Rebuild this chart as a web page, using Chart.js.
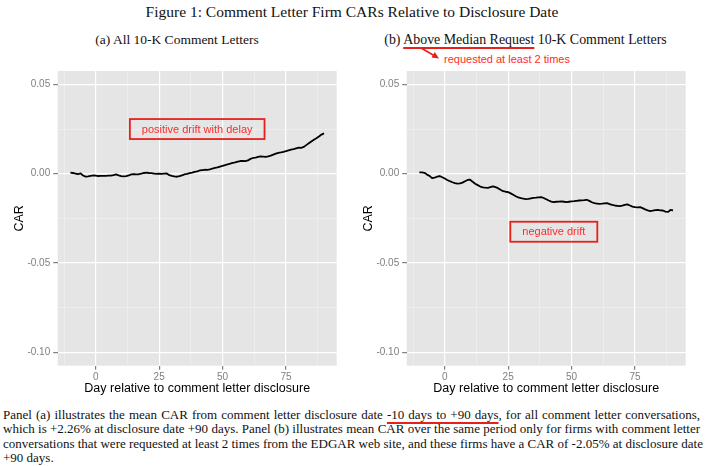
<!DOCTYPE html>
<html>
<head>
<meta charset="utf-8">
<script src="https://cdn.jsdelivr.net/npm/chart.js@4"></script>
<style>
  body { margin: 0; width: 705px; height: 466px; background: #fff; position: relative; overflow: hidden; }
  .c { position: absolute; transform: translate(-50%, -50%); white-space: nowrap; font-family: "Liberation Serif", serif; color: #111; }
  .ul { text-decoration: underline; text-decoration-color: #e8201c; text-decoration-thickness: 1.5px; text-underline-offset: 3px; }
  .cap { position: absolute; left: 3px; width: 697px; height: 14px; line-height: 14px; font-family: "Liberation Serif", serif;
         font-size: 13px; color: #111; text-align: justify; text-align-last: justify; white-space: nowrap; }
  canvas { position: absolute; top: 60px; }
</style>
</head>
<body>
<div class="c" style="left:352px;top:12px;font-size:15.5px">Figure 1: Comment Letter Firm CARs Relative to Disclosure Date</div>
<div class="c" style="left:177px;top:40px;font-size:13.5px">(a) All 10-K Comment Letters</div>
<div class="c" style="left:525.5px;top:40px;font-size:13.9px">(b) <span class="ul">Above Median Request</span> 10-K Comment Letters</div>
<div class="c" style="left:507px;top:59px;font-size:11px;font-family:'Liberation Sans',sans-serif;color:#ff2a2a">requested at least 2 times</div>
<svg width="705" height="466" style="position:absolute;left:0;top:0;pointer-events:none">
  <line x1="421" y1="48" x2="434" y2="55.5" stroke="#e8201c" stroke-width="1.6"/>
  <polygon points="439,58.5 431.5,57.5 434.8,52" fill="#e8201c"/>
</svg>

<canvas id="panelA" width="345" height="340" style="left:0px"></canvas>
<canvas id="panelB" width="345" height="340" style="left:349px"></canvas>

<div class="cap" style="top:408px">Panel (a) illustrates the mean CAR from comment letter disclosure date <span class="ul">-10 days to +90 days</span>, for all comment letter conversations,</div>
<div class="cap" style="top:422px">which is +2.26% at disclosure date +90 days. Panel (b) illustrates mean CAR over the same period only for firms with comment letter</div>
<div class="cap" style="top:437px">conversations that were requested at least 2 times from the EDGAR web site, and these firms have a CAR of -2.05% at disclosure date</div>
<div class="cap" style="top:451px;text-align-last:left">+90 days.</div>

<script>
// days -10 .. +90 relative to disclosure
const days = [
  -10, -9, -8, -7, -6, -5, -4, -3, -2, -1,
  0, 1, 2, 3, 4, 5, 6, 7, 8, 9,
  10, 11, 12, 13, 14, 15, 16, 17, 18, 19,
  20, 21, 22, 23, 24, 25, 26, 27, 28, 29,
  30, 31, 32, 33, 34, 35, 36, 37, 38, 39,
  40, 41, 42, 43, 44, 45, 46, 47, 48, 49,
  50, 51, 52, 53, 54, 55, 56, 57, 58, 59,
  60, 61, 62, 63, 64, 65, 66, 67, 68, 69,
  70, 71, 72, 73, 74, 75, 76, 77, 78, 79,
  80, 81, 82, 83, 84, 85, 86, 87, 88, 89,
  90
];

// (a) all 10-K comment letters, mean CAR
const carAll = [
  0.0006, 0.0004, 0.0001, -0.0003, 0.0002, -0.0010, -0.0016, -0.0015, -0.0012, -0.0009,
  -0.0011, -0.0013, -0.0012, -0.0012, -0.0012, -0.0011, -0.0011, -0.0008, -0.0004, -0.0009,
  -0.0013, -0.0015, -0.0014, -0.0010, -0.0004, -0.0002, -0.0004, -0.0003, 0.0000, 0.0004,
  0.0006, 0.0004, 0.0003, 0.0001, -0.0001, 0.0000, -0.0001, 0.0000, 0.0001, -0.0008,
  -0.0012, -0.0015, -0.0017, -0.0014, -0.0009, -0.0004, -0.0001, 0.0003, 0.0006, 0.0010,
  0.0013, 0.0018, 0.0020, 0.0022, 0.0021, 0.0024, 0.0029, 0.0033, 0.0035, 0.0040,
  0.0044, 0.0048, 0.0052, 0.0056, 0.0061, 0.0063, 0.0067, 0.0071, 0.0072, 0.0070,
  0.0074, 0.0083, 0.0088, 0.0090, 0.0094, 0.0097, 0.0096, 0.0094, 0.0097, 0.0101,
  0.0107, 0.0112, 0.0117, 0.0119, 0.0122, 0.0126, 0.0131, 0.0135, 0.0138, 0.0142,
  0.0146, 0.0145, 0.0150, 0.0160, 0.0170, 0.0180, 0.0190, 0.0198, 0.0208, 0.0219,
  0.0226
];

// (b) above median request 10-K comment letters, mean CAR
const carAboveMedian = [
  0.0007, 0.0007, 0.0005, -0.0005, -0.0012, -0.0025, -0.0022, -0.0017, -0.0013, -0.0020,
  -0.0027, -0.0035, -0.0042, -0.0048, -0.0053, -0.0056, -0.0054, -0.0050, -0.0042, -0.0035,
  -0.0034, -0.0045, -0.0056, -0.0064, -0.0072, -0.0076, -0.0078, -0.0079, -0.0075, -0.0071,
  -0.0075, -0.0081, -0.0090, -0.0098, -0.0101, -0.0103, -0.0110, -0.0118, -0.0126, -0.0133,
  -0.0137, -0.0140, -0.0142, -0.0141, -0.0138, -0.0135, -0.0134, -0.0132, -0.0131, -0.0136,
  -0.0143, -0.0150, -0.0156, -0.0159, -0.0157, -0.0156, -0.0155, -0.0157, -0.0159, -0.0157,
  -0.0155, -0.0154, -0.0152, -0.0150, -0.0149, -0.0148, -0.0146, -0.0152, -0.0160, -0.0165,
  -0.0167, -0.0169, -0.0168, -0.0166, -0.0165, -0.0170, -0.0175, -0.0178, -0.0180, -0.0182,
  -0.0179, -0.0175, -0.0172, -0.0178, -0.0184, -0.0187, -0.0188, -0.0187, -0.0193, -0.0200,
  -0.0205, -0.0209, -0.0207, -0.0204, -0.0202, -0.0205, -0.0206, -0.0212, -0.0214, -0.0203,
  -0.0205
];

// axis ticks (ggplot style: labelled majors + unlabelled minors)
const xMajor = [0, 25, 50, 75];
const xTickLabels = ['0', '25', '50', '75'];
const xMinor = [-12.5, 12.5, 37.5, 62.5, 87.5];
const yMajor = [-0.10, -0.05, 0.00, 0.05];
const yTickLabels = ['-0.10', '-0.05', '0.00', '0.05'];
const yMinor = [-0.075, -0.025, 0.025];

const FONT = '"Liberation Sans", Arial, sans-serif';

const findMajor = (list, v) => list.findIndex(m => Math.abs(m - v) < 1e-9);

// grey panel background
const panelBg = {
  id: 'panelBg',
  beforeDraw(chart) {
    const { ctx, chartArea: a } = chart;
    ctx.save();
    ctx.fillStyle = '#e5e5e5';
    ctx.fillRect(a.left, a.top, a.right - a.left, a.bottom - a.top);
    ctx.restore();
  }
};

// red boxed note, placed in data coordinates
const noteBox = {
  id: 'noteBox',
  afterDatasetsDraw(chart, args, opts) {
    if (!opts || !opts.text) return;
    const { ctx, scales: { x, y } } = chart;
    const cx = x.getPixelForValue(opts.x);
    const cy = y.getPixelForValue(opts.y);
    ctx.save();
    ctx.font = '11px ' + FONT;
    const w = ctx.measureText(opts.text).width + 24;
    const h = 20;
    ctx.strokeStyle = '#e8201c';
    ctx.lineWidth = 1.8;
    ctx.strokeRect(cx - w / 2, cy - h / 2, w, h);
    ctx.fillStyle = '#ff2a2a';
    ctx.textAlign = 'center';
    ctx.textBaseline = 'middle';
    ctx.fillText(opts.text, cx, cy + 0.5);
    ctx.restore();
  }
};

function makePanel(id, values, note) {
  const ctx = document.getElementById(id).getContext('2d');
  return new Chart(ctx, {
    type: 'line',
    data: {
      datasets: [{
        data: days.map((d, i) => ({ x: d, y: values[i] })),
        borderColor: '#000',
        borderWidth: 1.8,
        pointRadius: 0,
        tension: 0,
        borderJoinStyle: 'round'
      }]
    },
    plugins: [panelBg, noteBox],
    options: {
      responsive: false,
      animation: false,
      layout: { padding: { top: 11, right: 8.3, bottom: 0, left: 0 } },
      plugins: {
        legend: { display: false },
        tooltip: { enabled: false },
        noteBox: note
      },
      scales: {
        x: {
          type: 'linear',
          min: -15,
          max: 95,
          afterBuildTicks: s => { s.ticks = xMajor.concat(xMinor).sort((a, b) => a - b).map(v => ({ value: v })); },
          afterFit: s => { s.height = 34.3; },
          border: { display: false },
          grid: {
            color: c => findMajor(xMajor, c.tick.value) >= 0 ? '#ffffff' : '#f2f2f2',
            lineWidth: c => findMajor(xMajor, c.tick.value) >= 0 ? 1.2 : 0.6,
            tickColor: c => findMajor(xMajor, c.tick.value) >= 0 ? '#7f7f7f' : 'rgba(0,0,0,0)',
            tickLength: 4
          },
          ticks: {
            autoSkip: false,
            maxRotation: 0,
            padding: 2,
            color: '#7f7f7f',
            font: { family: FONT, size: 10 },
            callback: v => { const i = findMajor(xMajor, v); return i >= 0 ? xTickLabels[i] : ''; }
          },
          title: {
            display: true,
            text: 'Day relative to comment letter disclosure',
            color: '#000',
            font: { family: FONT, size: 12.5 },
            padding: { top: 0, bottom: 3.5 }
          }
        },
        y: {
          min: -0.1075,
          max: 0.0575,
          afterBuildTicks: s => { s.ticks = yMajor.concat(yMinor).sort((a, b) => a - b).map(v => ({ value: v })); },
          afterFit: s => { s.width = 57.7; },
          border: { display: false },
          grid: {
            color: c => findMajor(yMajor, c.tick.value) >= 0 ? '#ffffff' : '#f2f2f2',
            lineWidth: c => findMajor(yMajor, c.tick.value) >= 0 ? 1.2 : 0.6,
            tickColor: c => findMajor(yMajor, c.tick.value) >= 0 ? '#7f7f7f' : 'rgba(0,0,0,0)',
            tickLength: 4.5
          },
          ticks: {
            autoSkip: false,
            padding: 3,
            color: '#7f7f7f',
            font: { family: FONT, size: 10 },
            callback: v => { const i = findMajor(yMajor, v); return i >= 0 ? yTickLabels[i] : ''; }
          },
          title: {
            display: true,
            text: 'CAR',
            color: '#000',
            font: { family: FONT, size: 12.5 },
            padding: { top: 12.5, bottom: 0 }
          }
        }
      }
    }
  });
}

makePanel('panelA', carAll, { text: 'positive drift with delay', x: 40, y: 0.025 });
makePanel('panelB', carAboveMedian, { text: 'negative drift', x: 43, y: -0.0325 });
</script>
</body>
</html>
